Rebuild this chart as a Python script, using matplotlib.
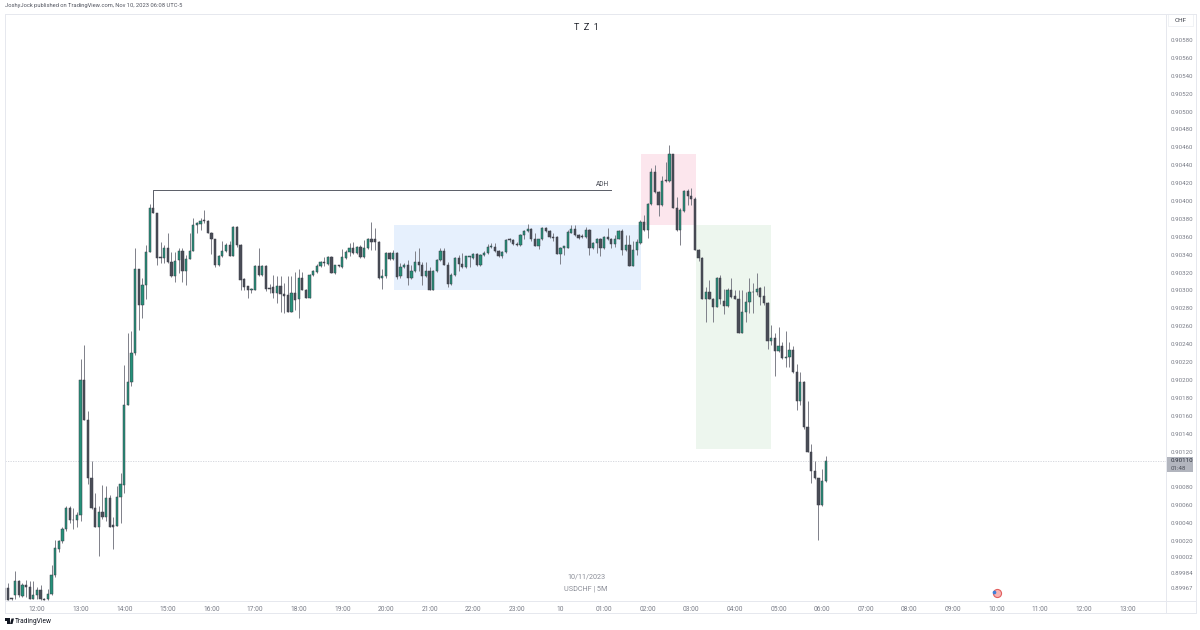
import matplotlib
matplotlib.use('Agg')
import matplotlib.pyplot as plt
from matplotlib.patches import Rectangle, Polygon
from matplotlib.lines import Line2D

# prices are in 1e-5 (90110 = 0.90110), one row per hour of 5 minute candles
first_index = -9
opens = [
    89954,89967,89956,89960,89975,89959,89971,89969,89955,
    89960,89965,89955,89955,89961,89982,90011,90020,90033,90057,90044,90044,
    90049,90200,90155,90090,90057,90036,90053,90047,90068,90038,90037,90069,
    90083,90172,90198,90230,90324,90284,90306,90343,90392,90387,90337,90336,
    90348,90332,90316,90334,90344,90322,90335,90344,90373,90374,90379,90378,
    90364,90357,90328,90338,90344,90351,90338,90371,90351,90313,90305,90301,
    90300,90327,90317,90327,90303,90304,90297,90305,90296,90295,90276,90297,
    90290,90314,90301,90292,90317,90321,90327,90332,90330,90337,90319,90328,
    90326,90336,90343,90348,90342,90349,90337,90348,90358,90358,90354,90314,
    90316,90342,90335,90342,90316,90326,90329,90314,90322,90332,90329,90316,
    90322,90301,90322,90334,90344,90329,90307,90317,90336,90330,90326,90337,
    90336,90341,90328,90340,90342,90349,90349,90344,90339,90343,90357,90356,
    90352,90351,90362,90366,90369,90358,90350,90357,90370,90367,90360,90360,
    90341,90348,90348,90364,90369,90362,90361,90360,90368,90348,90353,90358,
    90347,90360,90358,90352,90358,90367,90345,90351,90327,90345,90353,90376,
    90368,90397,90432,90410,90395,90423,90422,90452,90392,90368,90389,90411,
    90406,90402,90345,90336,90291,90298,90291,90282,90314,90288,90283,90301,
    90294,90291,90252,90276,90287,90298,90298,90303,90294,90286,90244,90247,
    90232,90238,90225,90226,90234,90209,90176,90198,90147,90120,90098,90091,
    90060,90087,
]
highs = [
    89968,89973,89956,89987,89976,89973,89977,89975,89975,
    89969,89971,89956,89966,89993,90021,90021,90036,90059,90059,90057,90053,
    90224,90239,90165,90109,90074,90059,90083,90081,90072,90047,90081,90096,
    90217,90252,90255,90347,90324,90314,90351,90397,90397,90387,90354,90351,
    90364,90343,90343,90348,90348,90340,90364,90381,90377,90381,90390,90379,
    90365,90358,90340,90355,90353,90355,90372,90372,90352,90314,90305,90303,
    90328,90348,90329,90328,90307,90317,90316,90316,90308,90316,90316,90321,
    90324,90321,90302,90318,90323,90330,90333,90337,90338,90338,90329,90329,
    90346,90345,90353,90354,90350,90351,90356,90359,90376,90370,90355,90324,
    90343,90343,90345,90343,90331,90331,90334,90328,90344,90347,90332,90332,
    90326,90323,90335,90348,90348,90332,90319,90337,90340,90342,90339,90339,
    90342,90342,90341,90344,90352,90353,90353,90345,90344,90357,90359,90358,
    90354,90363,90368,90374,90370,90364,90358,90371,90371,90368,90364,90361,
    90349,90350,90368,90373,90373,90363,90363,90371,90369,90354,90359,90359,
    90361,90370,90359,90362,90368,90369,90362,90362,90355,90358,90379,90384,
    90398,90437,90440,90411,90428,90444,90463,90453,90405,90392,90412,90413,
    90414,90404,90346,90337,90304,90312,90292,90315,90317,90302,90303,90314,
    90301,90301,90300,90298,90314,90308,90319,90304,90305,90287,90262,90252,
    90259,90243,90255,90242,90238,90218,90209,90199,90177,90129,90109,90091,
    90101,90115,
]
lows = [
    89954,89954,89954,89955,89958,89957,89958,89955,89955,
    89955,89954,89954,89954,89960,89980,90008,90018,90031,90040,90033,90036,
    90042,90155,90084,90056,90036,90003,90045,90042,90036,90011,90037,90040,
    90074,90172,90193,90228,90256,90269,90291,90343,90387,90329,90331,90331,
    90331,90315,90309,90320,90309,90306,90335,90344,90364,90368,90375,90364,
    90341,90326,90327,90337,90343,90338,90338,90349,90301,90300,90292,90297,
    90300,90316,90316,90299,90297,90292,90286,90276,90275,90276,90276,90278,
    90269,90300,90292,90292,90316,90320,90326,90327,90329,90319,90318,90326,
    90325,90335,90338,90341,90341,90336,90336,90346,90345,90345,90313,90302,
    90314,90334,90334,90313,90314,90325,90306,90313,90321,90322,90306,90315,
    90300,90300,90321,90333,90328,90304,90306,90316,90322,90325,90325,90326,
    90335,90327,90327,90339,90341,90347,90343,90337,90336,90342,90354,90351,
    90350,90350,90358,90365,90355,90350,90346,90356,90365,90359,90355,90341,
    90330,90340,90347,90364,90361,90358,90359,90359,90340,90346,90342,90339,
    90346,90356,90347,90349,90357,90340,90344,90327,90327,90340,90352,90366,
    90359,90396,90409,90383,90394,90421,90421,90392,90367,90351,90388,90396,
    90395,90345,90333,90290,90265,90290,90265,90281,90285,90274,90282,90292,
    90290,90252,90252,90265,90275,90275,90295,90284,90284,90235,90239,90204,
    90231,90224,90215,90214,90208,90166,90172,90145,90119,90085,90089,90021,
    90059,90086,
]
closes = [
    89967,89954,89955,89975,89960,89971,89969,89955,89960,
    89965,89955,89954,89961,89982,90012,90020,90033,90057,90044,90043,90049,
    90200,90155,90090,90057,90036,90053,90047,90068,90036,90036,90069,90084,
    90172,90198,90230,90324,90284,90306,90343,90392,90387,90336,90336,90348,
    90332,90316,90333,90344,90322,90335,90344,90373,90375,90378,90378,90364,
    90357,90328,90338,90344,90351,90338,90371,90351,90312,90304,90300,90301,
    90327,90317,90327,90302,90302,90297,90305,90296,90294,90276,90297,90289,
    90314,90301,90292,90317,90322,90327,90332,90331,90337,90319,90328,90327,
    90337,90343,90348,90342,90349,90337,90348,90358,90354,90354,90314,90316,
    90342,90335,90342,90315,90326,90329,90314,90322,90332,90328,90316,90322,
    90301,90322,90334,90344,90329,90307,90317,90336,90330,90326,90338,90338,
    90341,90328,90340,90342,90349,90349,90344,90339,90343,90356,90356,90352,
    90351,90362,90366,90369,90358,90350,90357,90370,90366,90360,90359,90341,
    90348,90350,90365,90369,90362,90359,90360,90368,90348,90353,90358,90347,
    90360,90357,90352,90358,90366,90345,90351,90327,90345,90354,90376,90368,
    90397,90432,90410,90395,90422,90422,90452,90392,90368,90390,90411,90406,
    90402,90345,90336,90291,90298,90291,90282,90314,90291,90283,90301,90293,
    90291,90252,90276,90287,90298,90298,90302,90293,90286,90244,90247,90232,
    90238,90225,90226,90234,90209,90176,90198,90147,90120,90098,90090,90060,
    90087,90110,
]

time_labels = ['12:00', '13:00', '14:00', '15:00', '16:00', '17:00', '18:00', '19:00',
               '20:00', '21:00', '22:00', '23:00', '10', '01:00', '02:00', '03:00',
               '04:00', '05:00', '06:00', '07:00', '08:00', '09:00', '10:00', '11:00',
               '12:00', '13:00']
price_ticks = [90580, 90560, 90540, 90520, 90500, 90480, 90460, 90440, 90420, 90400,
               90380, 90360, 90340, 90320, 90300, 90280, 90260, 90240, 90220, 90200,
               90180, 90160, 90140, 90120, 90080, 90060, 90040, 90020, 90002, 89984, 89967]
last_price = 90110

# zones: candle index from/to, price from/to
blue_zone = (98.2, 166.2, 90300, 90373)
pink_zone = (166.2, 181.3, 90373, 90452)
green_zone = (181.3, 201.9, 90123, 90373)
adh_level = (32, 157.9, 90412, 90393)

W, H = 1200, 630
LEFT, RIGHT, TOP, BOTTOM = 5, 1166, 14, 601
BORDER = '#E6E8EE'
TEXT = '#787B86'


def fx(x):
    return x / W


def fy(y):
    return 1 - y / H


fig = plt.figure(figsize=(12, 6.3), dpi=100, facecolor='white')
plt.rcParams['font.family'] = ['Roboto', 'DejaVu Sans']
ax = fig.add_axes([fx(LEFT), fy(BOTTOM), (RIGHT - LEFT) / W, (BOTTOM - TOP) / H])
ax.set_xlim((-8.8, 310.6))
ax.set_ylim((89953, 90609))

for zone, color in ((blue_zone, '#E6F0FD'), (pink_zone, '#FCE6ED'), (green_zone, '#EDF6EE')):
    ax.add_patch(Rectangle((zone[0], zone[2]), zone[1] - zone[0], zone[3] - zone[2],
                           facecolor=color, edgecolor='none', zorder=1))

ax.axhline(last_price, color='#D0D2D9', lw=0.6, ls=(0, (1.5, 1.5)), zorder=1)

for i, (o, h, l, c) in enumerate(zip(opens, highs, lows, closes)):
    x = first_index + i
    ax.plot([x, x], [l, h], color='#7E8089', lw=0.7, zorder=2, solid_capstyle='butt')
    up = c >= o
    ax.add_patch(Rectangle((x - 0.31, min(o, c)), 0.62, max(abs(c - o), 0.6),
                           facecolor='#26917A' if up else '#4A4D57',
                           edgecolor='#3A3D47', lw=0.35, zorder=3))

ax.plot([adh_level[0], adh_level[0], adh_level[1]],
        [adh_level[3], adh_level[2], adh_level[2]], color='#5A5D67', lw=0.7, zorder=4)
ax.text(155.6, 90418, 'ADH', fontsize=4.8, color='#444751', ha='center', va='center')

# event flag on the time axis
ax.scatter([264], [89962], s=34, color='#F7B3B3', edgecolor='#E2605F', lw=0.8, zorder=5, clip_on=False)
ax.scatter([263.4], [89963.5], s=7, color='#3D7FD9', lw=0, zorder=6, clip_on=False)

ax.set_xticks(range(0, 12 * len(time_labels), 12))
ax.set_xticklabels(time_labels, fontsize=4.8, color=TEXT)
ax.yaxis.tick_right()
ax.set_yticks(price_ticks)
ax.set_yticklabels(['0.{}'.format(p) for p in price_ticks], fontsize=4.4, color=TEXT)
ax.tick_params(length=0)
ax.tick_params(axis='x', pad=3.5)
ax.tick_params(axis='y', pad=3.5)
for side in ax.spines:
    ax.spines[side].set_color(BORDER)
    ax.spines[side].set_linewidth(0.7)

# outer frame of the price and time scales
for xs, ys in (([RIGHT, 1196], [TOP, TOP]), ([1196, 1196], [TOP, 613]), ([LEFT, 1196], [613, 613]),
               ([LEFT, LEFT], [BOTTOM, 613]), ([RIGHT, RIGHT], [BOTTOM, 613]), ([RIGHT, 1196], [BOTTOM, BOTTOM])):
    fig.add_artist(Line2D([fx(v) for v in xs], [fy(v) for v in ys], color=BORDER, lw=0.7))

fig.add_artist(Rectangle((fx(1168), fy(25.5)), 25 / W, 11 / H, transform=fig.transFigure,
                         facecolor='white', edgecolor='#EEF0F4', lw=0.6))
fig.text(fx(1181), fy(20.5), 'CHF', fontsize=4.6, color='#3A3D47', ha='center', va='center')

fig.add_artist(Rectangle((fx(1167), fy(472)), 26 / W, 15 / H, transform=fig.transFigure,
                         facecolor='#B2B5BE', edgecolor='none'))
fig.text(fx(1171), fy(461), '0.90110', fontsize=4.4, color='#2A2E39', ha='left', va='center')
fig.text(fx(1171), fy(468), '01:48', fontsize=4.4, color='#4C4F59', ha='left', va='center')

fig.text(fx(5), fy(6), 'JoshyJock published on TradingView.com, Nov 10, 2023 06:08 UTC-5',
         fontsize=4.15, color='#50535E', ha='left', va='center')
fig.text(fx(586), fy(27), 'T  Z  1', fontsize=6.5, color='#20232C', ha='center', va='center')
fig.text(fx(586), fy(577), '10/11/2023', fontsize=5.2, color='#8A8D97', ha='center', va='center')
fig.text(fx(586), fy(589), 'USDCHF | 5M', fontsize=5.2, color='#8A8D97', ha='center', va='center')

# TradingView logo
fig.add_artist(Rectangle((fx(5), fy(620.5)), 4.5 / W, 2.2 / H, transform=fig.transFigure, facecolor='#131722', edgecolor='none'))
fig.add_artist(Rectangle((fx(7), fy(624)), 2.5 / W, 4 / H, transform=fig.transFigure, facecolor='#131722', edgecolor='none'))
fig.add_artist(Polygon([(fx(10), fy(624)), (fx(11.5), fy(618.5)), (fx(14), fy(618.5)), (fx(12.5), fy(624))],
                       transform=fig.transFigure, facecolor='#131722', edgecolor='none'))
fig.text(fx(15), fy(621.5), 'TradingView', fontsize=4.8, color='#131722', ha='left', va='center')

fig.savefig('out.png', dpi=100)
plt.close(fig)
